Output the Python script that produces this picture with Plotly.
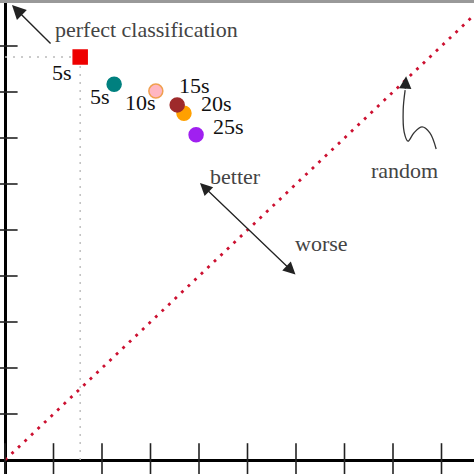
import plotly.graph_objects as go

# ROC-space data
fpr = [0.155, 0.225, 0.311, 0.369, 0.355, 0.394]
tpr = [0.876, 0.817, 0.802, 0.754, 0.772, 0.707]
names = ["5s", "5s", "10s", "20s", "15s", "25s"]
symbols = ["square", "circle", "circle", "circle", "circle", "circle"]
fill = ["#ee0000", "#00807f", "#ffb6c1", "#ffa000", "#9e2a2b", "#a020f0"]
edge = ["#ee0000", "#00807f", "#f0a050", "#ffa000", "#9e2a2b", "#a020f0"]
label_x = [0.1175, 0.196, 0.280, 0.437, 0.390, 0.460]
label_y = [0.843, 0.791, 0.778, 0.774, 0.815, 0.724]

ticks_x = [0.0, 0.1, 0.2, 0.3, 0.4, 0.5, 0.6, 0.7, 0.8, 0.9]
ticks_y = [0.1, 0.2, 0.3, 0.4, 0.5, 0.6, 0.7, 0.8, 0.9]

wave_x = [0.889, 0.876, 0.860, 0.843, 0.831, 0.823, 0.821, 0.825]
wave_y = [0.676, 0.711, 0.724, 0.711, 0.693, 0.713, 0.761, 0.804]

SERIF = "Liberation Serif, DejaVu Serif, serif"
GRAY = "#444444"

fig = go.Figure()

# random diagonal
fig.add_trace(go.Scatter(x=[0, 1], y=[0, 1], mode="lines",
                         line=dict(color="#cc1030", width=2.8, dash="2.8px,6.2px"),
                         hoverinfo="skip"))
# guide lines to the best point
fig.add_trace(go.Scatter(x=[0, fpr[0]], y=[tpr[0], tpr[0]], mode="lines",
                         line=dict(color="#bbbbbb", width=1.4, dash="2px,6px"), hoverinfo="skip"))
fig.add_trace(go.Scatter(x=[fpr[0], fpr[0]], y=[0, tpr[0]], mode="lines",
                         line=dict(color="#bbbbbb", width=1.4, dash="2px,6px"), hoverinfo="skip"))

# ticks
fig.add_trace(go.Scatter(x=ticks_x, y=[0] * len(ticks_x), mode="markers",
                         marker=dict(symbol="line-ns", size=24, line=dict(color="#222", width=1.6)),
                         hoverinfo="skip"))
fig.add_trace(go.Scatter(x=[0] * len(ticks_y), y=ticks_y, mode="markers",
                         marker=dict(symbol="line-ew", size=18, line=dict(color="#222", width=1.6)),
                         hoverinfo="skip"))

# wavy arrow body
fig.add_trace(go.Scatter(x=wave_x, y=wave_y, mode="lines", line=dict(color="#333", width=1.3, shape="spline"),
                         hoverinfo="skip"))

# points
fig.add_trace(go.Scatter(x=fpr, y=tpr, mode="markers",
                         marker=dict(symbol=symbols, size=14, color=fill, line=dict(color=edge, width=1.5)),
                         hoverinfo="skip"))

ann = []
for n, lx, ly in zip(names, label_x, label_y):
    ann.append(dict(x=lx, y=ly, text=n, showarrow=False, font=dict(family=SERIF, size=22, color="#111")))

ann += [
    dict(x=0.291, y=0.935, text="perfect classification", showarrow=False,
         font=dict(family=SERIF, size=22, color=GRAY)),
    dict(x=0.476, y=0.617, text="better", showarrow=False, font=dict(family=SERIF, size=22, color=GRAY)),
    dict(x=0.652, y=0.470, text="worse", showarrow=False, font=dict(family=SERIF, size=22, color=GRAY)),
    dict(x=0.823, y=0.630, text="random", showarrow=False, font=dict(family=SERIF, size=22, color=GRAY)),
    # perfect classification arrow
    dict(x=0.0144, y=0.989, ax=0.097, ay=0.902, axref="x", ayref="y", xref="x", yref="y",
         showarrow=True, arrowhead=2, arrowsize=2.0, arrowwidth=1.4, arrowcolor="#222", text=""),
    # better/worse double arrow
    dict(x=0.402, y=0.602, ax=0.602, ay=0.400, axref="x", ayref="y", xref="x", yref="y",
         showarrow=True, arrowhead=2, startarrowhead=2, arrowside="end+start", arrowsize=1.9,
         startarrowsize=1.9, arrowwidth=1.3, arrowcolor="#222", text=""),
    # random arrow head
    dict(x=0.827, y=0.834, ax=wave_x[-1], ay=wave_y[-1], axref="x", ayref="y", xref="x", yref="y",
         showarrow=True, arrowhead=2, arrowsize=1.9, arrowwidth=1.3, arrowcolor="#222", text=""),
]

fig.update_layout(
    width=474, height=474, margin=dict(l=0, r=0, t=0, b=0),
    paper_bgcolor="white", plot_bgcolor="white", showlegend=False,
    annotations=ann,
    shapes=[dict(type="line", xref="paper", yref="paper", x0=0, x1=1, y0=1, y1=1,
                 line=dict(color="#999999", width=6))],
    xaxis=dict(range=[-5 / 485, 469 / 485], showgrid=False, showticklabels=False, ticks="",
               zeroline=True, zerolinecolor="#000", zerolinewidth=3, showline=False),
    yaxis=dict(range=[-14 / 460, 1.0], showgrid=False, showticklabels=False, ticks="",
               zeroline=True, zerolinecolor="#000", zerolinewidth=3, showline=False),
)

fig.write_html("out.html")
